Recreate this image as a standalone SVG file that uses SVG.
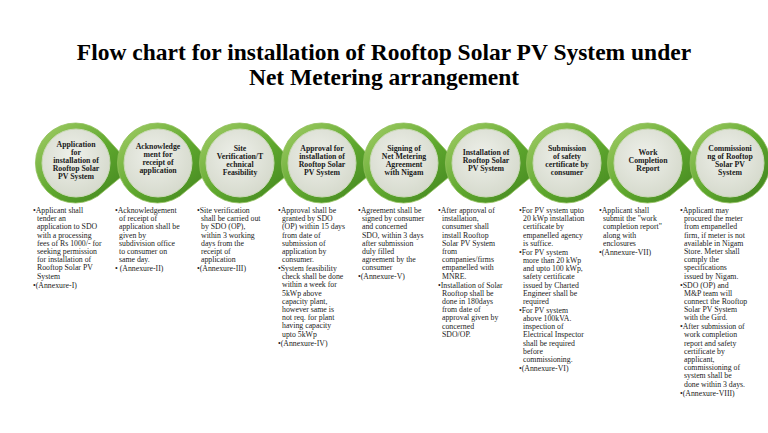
<svg xmlns="http://www.w3.org/2000/svg" width="768" height="433" viewBox="0 0 768 433">
<defs>
<linearGradient id="g" x1="0" y1="0" x2="1" y2="1">
<stop offset="0" stop-color="#a6cf6a"/><stop offset="0.5" stop-color="#5fa82e"/><stop offset="1" stop-color="#3d7f1c"/>
</linearGradient>
<radialGradient id="f" cx="0.45" cy="0.4" r="0.6">
<stop offset="0" stop-color="#eef0ea"/><stop offset="1" stop-color="#d6dacd"/>
</radialGradient>
<g id="drop">
<path d="M28,-28 L57,4 L28,28 A40,40 0 1 1 28,-28 Z" fill="url(#g)" stroke="#8fbf5a" stroke-width="0.8"/>
<circle r="34" fill="url(#f)" stroke="#c9d9b5" stroke-width="1"/>
</g>
</defs>
<style>
.t{font-family:"Liberation Serif",serif;font-weight:bold;font-size:23.5px;fill:#000;text-anchor:middle}
.n{font-family:"Liberation Serif",serif;font-weight:bold;font-size:7.8px;fill:#1a1a1a;text-anchor:middle}
.b{font-family:"Liberation Serif",serif;font-size:7.8px;fill:#222}
</style>
<rect width="768" height="433" fill="#fff"/>
<text class="t" x="384" y="60">Flow chart for installation of Rooftop Solar PV System under</text>
<text class="t" x="384" y="85">Net Metering arrangement</text>

<g id="n1" transform="translate(76,163)"><use href="#drop"/>
<text class="n"><tspan x="0" y="-16">Application</tspan><tspan x="0" y="-8">for</tspan><tspan x="0" y="0">installation of</tspan><tspan x="0" y="8">Rooftop Solar</tspan><tspan x="0" y="16">PV System</tspan></text></g>
<g id="n2" transform="translate(158,163)"><use href="#drop"/>
<text class="n"><tspan x="0" y="-14">Acknowledge</tspan><tspan x="0" y="-6">ment for</tspan><tspan x="0" y="2">receipt of</tspan><tspan x="0" y="10">application</tspan></text></g>
<g id="n3" transform="translate(240,163)"><use href="#drop"/>
<text class="n"><tspan x="0" y="-12">Site</tspan><tspan x="0" y="-4">Verification/T</tspan><tspan x="0" y="4">echnical</tspan><tspan x="0" y="12">Feasibility</tspan></text></g>
<g id="n4" transform="translate(322,163)"><use href="#drop"/>
<text class="n"><tspan x="0" y="-12">Approval for</tspan><tspan x="0" y="-4">installation of</tspan><tspan x="0" y="4">Rooftop Solar</tspan><tspan x="0" y="12">PV System</tspan></text></g>
<g id="n5" transform="translate(404,163)"><use href="#drop"/>
<text class="n"><tspan x="0" y="-12">Signing of</tspan><tspan x="0" y="-4">Net Metering</tspan><tspan x="0" y="4">Agreement</tspan><tspan x="0" y="12">with Nigam</tspan></text></g>
<g id="n6" transform="translate(486,163)"><use href="#drop"/>
<text class="n"><tspan x="0" y="-8">Installation of</tspan><tspan x="0" y="0">Rooftop Solar</tspan><tspan x="0" y="8">PV System</tspan></text></g>
<g id="n7" transform="translate(567,163)"><use href="#drop"/>
<text class="n"><tspan x="0" y="-12">Submission</tspan><tspan x="0" y="-4">of safety</tspan><tspan x="0" y="4">certificate by</tspan><tspan x="0" y="12">consumer</tspan></text></g>
<g id="n8" transform="translate(648,163)"><use href="#drop"/>
<text class="n"><tspan x="0" y="-8">Work</tspan><tspan x="0" y="0">Completion</tspan><tspan x="0" y="8">Report</tspan></text></g>
<g id="n9" transform="translate(730,163)">
<circle r="40" fill="url(#g)" stroke="#8fbf5a" stroke-width="0.8"/><circle r="34" fill="url(#f)" stroke="#c9d9b5" stroke-width="1"/>
<text class="n"><tspan x="0" y="-12">Commissioni</tspan><tspan x="0" y="-4">ng of Rooftop</tspan><tspan x="0" y="4">Solar PV</tspan><tspan x="0" y="12">System</tspan></text></g>

<g id="connectors"></g>

<g id="d1"><text class="b"><tspan x="33" y="213">•Applicant shall</tspan><tspan x="37" y="221.2">tender an</tspan><tspan x="37" y="229.4">application to SDO</tspan><tspan x="37" y="237.6">with a processing</tspan><tspan x="37" y="245.8">fees of Rs 1000/- for</tspan><tspan x="37" y="254">seeking permission</tspan><tspan x="37" y="262.2">for installation of</tspan><tspan x="37" y="270.4">Rooftop Solar  PV</tspan><tspan x="37" y="278.6">System</tspan><tspan x="33" y="287.5">•(Annexure-I)</tspan></text></g>
<g id="d2"><text class="b"><tspan x="115" y="213">•Acknowledgement</tspan><tspan x="119" y="221.2">of receipt of</tspan><tspan x="119" y="229.4">application shall be</tspan><tspan x="119" y="237.6">given by</tspan><tspan x="119" y="245.8">subdivision office</tspan><tspan x="119" y="254">to consumer on</tspan><tspan x="119" y="262.2">same day.</tspan><tspan x="115" y="271">• (Annexure-II)</tspan></text></g>
<g id="d3"><text class="b"><tspan x="197" y="213">•Site verification</tspan><tspan x="201" y="221.2">shall be carried out</tspan><tspan x="201" y="229.4">by SDO (OP),</tspan><tspan x="201" y="237.6">within 3 working</tspan><tspan x="201" y="245.8">days from the</tspan><tspan x="201" y="254">receipt of</tspan><tspan x="201" y="262.2">application</tspan><tspan x="197" y="271">•(Annexure-III)</tspan></text></g>
<g id="d4"><text class="b"><tspan x="278" y="213">•Approval shall be</tspan><tspan x="282" y="221.2">granted by SDO</tspan><tspan x="282" y="229.4">(OP) within 15 days</tspan><tspan x="282" y="237.6">from date of</tspan><tspan x="282" y="245.8">submission of</tspan><tspan x="282" y="254">application by</tspan><tspan x="282" y="262.2">consumer.</tspan><tspan x="278" y="271">•System feasibility</tspan><tspan x="282" y="279.2">check shall be done</tspan><tspan x="282" y="287.4">within a week for</tspan><tspan x="282" y="295.6">5kWp above</tspan><tspan x="282" y="303.8">capacity plant,</tspan><tspan x="282" y="312">however same is</tspan><tspan x="282" y="320.2">not req. for plant</tspan><tspan x="282" y="328.4">having capacity</tspan><tspan x="282" y="336.6">upto 5kWp</tspan><tspan x="278" y="345.5">•(Annexure-IV)</tspan></text></g>
<g id="d5"><text class="b"><tspan x="358" y="213">•Agreement shall be</tspan><tspan x="362" y="221.2">signed by consumer</tspan><tspan x="362" y="229.4">and concerned</tspan><tspan x="362" y="237.6">SDO, within 3 days</tspan><tspan x="362" y="245.8">after submission</tspan><tspan x="362" y="254">duly filled</tspan><tspan x="362" y="262.2">agreement by the</tspan><tspan x="362" y="270.4">consumer</tspan><tspan x="358" y="279.3">•(Annexure-V)</tspan></text></g>
<g id="d6"><text class="b"><tspan x="438" y="213">•After approval of</tspan><tspan x="442" y="221.2">installation,</tspan><tspan x="442" y="229.4">consumer shall</tspan><tspan x="442" y="237.6">install Rooftop</tspan><tspan x="442" y="245.8">Solar  PV System</tspan><tspan x="442" y="254">from</tspan><tspan x="442" y="262.2">companies/firms</tspan><tspan x="442" y="270.4">empanelled with</tspan><tspan x="442" y="278.6">MNRE.</tspan><tspan x="438" y="287.5">•Installation of Solar</tspan><tspan x="442" y="295.7">Rooftop shall be</tspan><tspan x="442" y="303.9">done in 180days</tspan><tspan x="442" y="312.1">from date of</tspan><tspan x="442" y="320.3">approval given by</tspan><tspan x="442" y="328.5">concerned</tspan><tspan x="442" y="336.7">SDO/OP.</tspan></text></g>
<g id="d7"><text class="b"><tspan x="519" y="213">•For PV system upto</tspan><tspan x="523" y="221.2">20 kWp installation</tspan><tspan x="523" y="229.4">certificate by</tspan><tspan x="523" y="237.6">empanelled agency</tspan><tspan x="523" y="245.8">is suffice.</tspan><tspan x="519" y="254.7">•For PV system</tspan><tspan x="523" y="262.9">more than 20 kWp</tspan><tspan x="523" y="271.1">and upto 100 kWp,</tspan><tspan x="523" y="279.3">safety certificate</tspan><tspan x="523" y="287.5">issued by Charted</tspan><tspan x="523" y="295.7">Engineer shall be</tspan><tspan x="523" y="303.9">required</tspan><tspan x="519" y="312.8">•For PV system</tspan><tspan x="523" y="321">above 100kVA.</tspan><tspan x="523" y="329.2">inspection of</tspan><tspan x="523" y="337.4">Electrical Inspector</tspan><tspan x="523" y="345.6">shall be required</tspan><tspan x="523" y="353.8">before</tspan><tspan x="523" y="362">commissioning.</tspan><tspan x="519" y="370.9">•(Annexure-VI)</tspan></text></g>
<g id="d8"><text class="b"><tspan x="599" y="213">•Applicant shall</tspan><tspan x="603" y="221.2">submit the "work</tspan><tspan x="603" y="229.4">completion report"</tspan><tspan x="603" y="237.6">along with</tspan><tspan x="603" y="245.8">enclosures</tspan><tspan x="599" y="254.7">•(Annexure-VII)</tspan></text></g>
<g id="d9"><text class="b"><tspan x="680" y="213">•Applicant may</tspan><tspan x="684" y="221.2">procured the meter</tspan><tspan x="684" y="229.4">from empanelled</tspan><tspan x="684" y="237.6">firm, if meter is not</tspan><tspan x="684" y="245.8">available in Nigam</tspan><tspan x="684" y="254">Store. Meter shall</tspan><tspan x="684" y="262.2">comply the</tspan><tspan x="684" y="270.4">specifications</tspan><tspan x="684" y="278.6">issued by Nigam.</tspan><tspan x="680" y="287.5">•SDO (OP) and</tspan><tspan x="684" y="295.7">M&amp;P team will</tspan><tspan x="684" y="303.9">connect the Rooftop</tspan><tspan x="684" y="312.1">Solar  PV System</tspan><tspan x="684" y="320.3">with the Gird.</tspan><tspan x="680" y="329.2">•After submission of</tspan><tspan x="684" y="337.4">work completion</tspan><tspan x="684" y="345.6">report and safety</tspan><tspan x="684" y="353.8">certificate by</tspan><tspan x="684" y="362">applicant,</tspan><tspan x="684" y="370.2">commissioning of</tspan><tspan x="684" y="378.4">system shall be</tspan><tspan x="684" y="386.6">done within 3 days.</tspan><tspan x="680" y="395.5">•(Annexure-VIII)</tspan></text></g>
</svg>
